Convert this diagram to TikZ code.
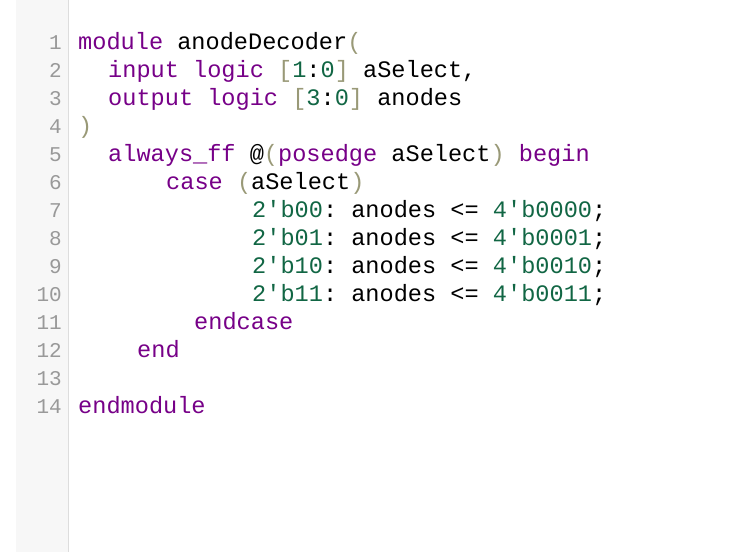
\documentclass[tikz,border=0pt]{standalone}
\usepackage{fontspec}
\setmonofont{Liberation Mono}
\definecolor{kw}{HTML}{770088}
\definecolor{nm}{HTML}{116644}
\definecolor{br}{HTML}{999977}
\definecolor{ln}{HTML}{999999}
\definecolor{gut}{HTML}{F7F7F7}
\definecolor{gb}{HTML}{DDDDDD}
\newcommand{\kw}[1]{\textcolor{kw}{#1}}
\newcommand{\nm}[1]{\textcolor{nm}{#1}}
\newcommand{\br}[1]{\textcolor{br}{#1}}
\begin{document}
\begin{tikzpicture}[x=1pt,y=1pt,
  code/.style={anchor=base west,inner sep=0pt,font=\fontsize{23.6}{28}\ttfamily},
  lnum/.style={anchor=base east,inner sep=0pt,text=ln,font=\fontsize{21}{28}\ttfamily}]
\useasboundingbox (0,0) rectangle (756,-552);
\fill[white] (0,0) rectangle (756,-552);
\fill[gut] (16,0) rectangle (68,-552);
\draw[gb,line width=1.2] (68.5,0) -- (68.5,-552);
\foreach \i in {1,...,14}{
  \node[lnum] (n\i) at (62,{-49-28*(\i-1)}) {\i};
}
\node[code] (l1) at (78,-49) {\kw{module} anodeDecoder\br{(}};
\node[code] (l2) at (108,-77) {\kw{input} \kw{logic} \br{[}\nm{1}:\nm{0}\br{]} aSelect,};
\node[code] (l3) at (108,-105) {\kw{output} \kw{logic} \br{[}\nm{3}:\nm{0}\br{]} anodes};
\node[code] (l4) at (78,-133) {\br{)}};
\node[code] (l5) at (108,-161) {\kw{always\_ff} @\br{(}\kw{posedge} aSelect\br{)} \kw{begin}};
\node[code] (l6) at (166,-189) {\kw{case} \br{(}aSelect\br{)}};
\node[code] (l7) at (252,-217) {\nm{2'b00}: anodes <= \nm{4'b0000};};
\node[code] (l8) at (252,-245) {\nm{2'b01}: anodes <= \nm{4'b0001};};
\node[code] (l9) at (252,-273) {\nm{2'b10}: anodes <= \nm{4'b0010};};
\node[code] (l10) at (252,-301) {\nm{2'b11}: anodes <= \nm{4'b0011};};
\node[code] (l11) at (194,-329) {\kw{endcase}};
\node[code] (l12) at (137,-357) {\kw{end}};
\node[code] (l14) at (78,-413) {\kw{endmodule}};
\end{tikzpicture}
\end{document}
